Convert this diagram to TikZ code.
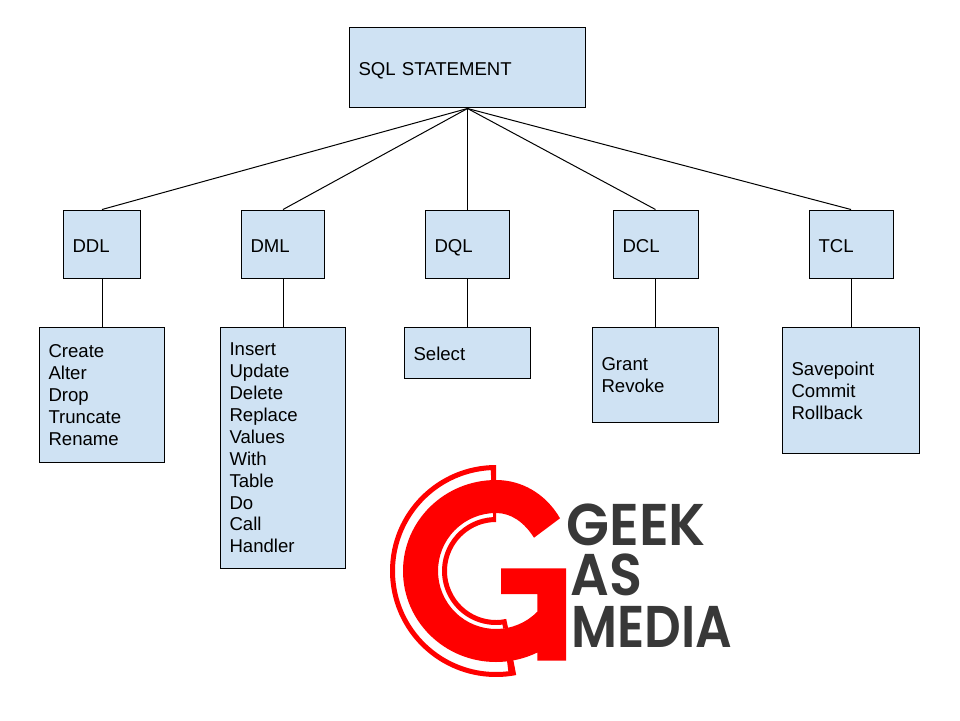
\documentclass[tikz,border=0pt]{standalone}
\usepackage{fontspec}
\setmainfont{Liberation Sans}
\newfontfamily\logofont{Poppins SemiBold}
\definecolor{boxblue}{HTML}{CFE2F3}
\definecolor{logored}{HTML}{FF0000}
\definecolor{logogray}{HTML}{383838}
\tikzset{
  box/.style={draw=black, fill=boxblue, line width=0.02cm, inner xsep=0.19cm, inner ysep=0pt, align=left,
    font=\fontsize{10.58}{12.47}\selectfont},
  oneline/.style={box, text height=0.38cm, text depth=0.07cm},
  link/.style={draw=black, line width=0.02cm},
  logotext/.style={text=logogray, inner sep=0pt, anchor=base west, transform shape, font=\logofont\fontsize{33.5}{40}\selectfont}
}
\begin{document}
\begin{tikzpicture}[x=0.02cm, y=-0.02cm]
\useasboundingbox (0,0) rectangle (960,720);
\node (sql) [oneline, text width=4.36cm, minimum height=1.62cm] at (467.5,67.5) {SQL STATEMENT};
\node (ddl) [oneline, text width=1.18cm, minimum height=1.38cm] at (102,244.5) {DDL};
\node (dml) [oneline, text width=1.30cm, minimum height=1.38cm] at (283,244.5) {DML};
\node (dql) [oneline, text width=1.32cm, minimum height=1.38cm] at (467.5,244.5) {DQL};
\node (dcl) [oneline, text width=1.32cm, minimum height=1.38cm] at (655.5,244.5) {DCL};
\node (tcl) [oneline, text width=1.30cm, minimum height=1.38cm] at (851,244.5) {TCL};
\node (ddlcmd) [box, text width=2.14cm, minimum height=2.72cm] at (102,395) {Create\\Alter\\Drop\\Truncate\\Rename};
\node (dmlcmd) [box, text width=2.14cm, minimum height=4.84cm] at (283,448) {Insert\\Update\\Delete\\Replace\\Values\\With\\Table\\Do\\Call\\Handler};
\node (dqlcmd) [oneline, text width=2.16cm, minimum height=1.04cm] at (467.5,353) {Select};
\node (dclcmd) [box, text width=2.16cm, minimum height=1.92cm] at (655.5,375) {Grant\\Revoke};
\node (tclcmd) [box, text width=2.38cm, minimum height=2.54cm] at (851,390.5) {Savepoint\\Commit\\Rollback};
\draw [link] (sql.south)--(ddl.north);
\draw [link] (sql.south)--(dml.north);
\draw [link] (sql.south)--(dql.north);
\draw [link] (sql.south)--(dcl.north);
\draw [link] (sql.south)--(tcl.north);
\draw [link] (ddl.south)--(ddlcmd.north);
\draw [link] (dml.south)--(dmlcmd.north);
\draw [link] (dql.south)--(dqlcmd.north);
\draw [link] (dcl.south)--(dclcmd.north);
\draw [link] (tcl.south)--(tclcmd.north);
% logo, y goes up in here
\begin{scope}[shift={(496,571)}, y=0.02cm]
\fill [logored] (64,52.7) .. controls (50,77) and (26,91) .. (0,91)
  arc[start angle=90, end angle=296.4, x radius=93, y radius=91] -- (41.3,-89.7) -- (70,-89.7) -- (70,2.7) -- (5,2.7)
  -- (5,-23) -- (41.3,-23) -- (41.3,-40.7) arc[start angle=-44.6, end angle=-270, radius=58]
  .. controls (15,58) and (28,49) .. (38,33.3) -- cycle;
\fill [logored] (90:106) arc[start angle=90, end angle=281, radius=106] -- (281:88) -- (277:88) -- (277:101)
  arc[start angle=277, end angle=93, radius=101] -- (93:90) -- (90:90) -- cycle;
\fill [logored] (90:58) -- (93:58) -- (93:54) arc[start angle=93, end angle=277, radius=54] -- (277:58) -- (282:58)
  -- (282:49) arc[start angle=282, end angle=90, radius=49] -- cycle;
\end{scope}
\node (geek) [logotext, xscale=0.95] at (566,545) {GEEK};
\node (as) [logotext, xscale=0.92] at (570,595) {AS};
\node (media) [logotext, xscale=0.87] at (571,647) {MEDIA};
\end{tikzpicture}
\end{document}
